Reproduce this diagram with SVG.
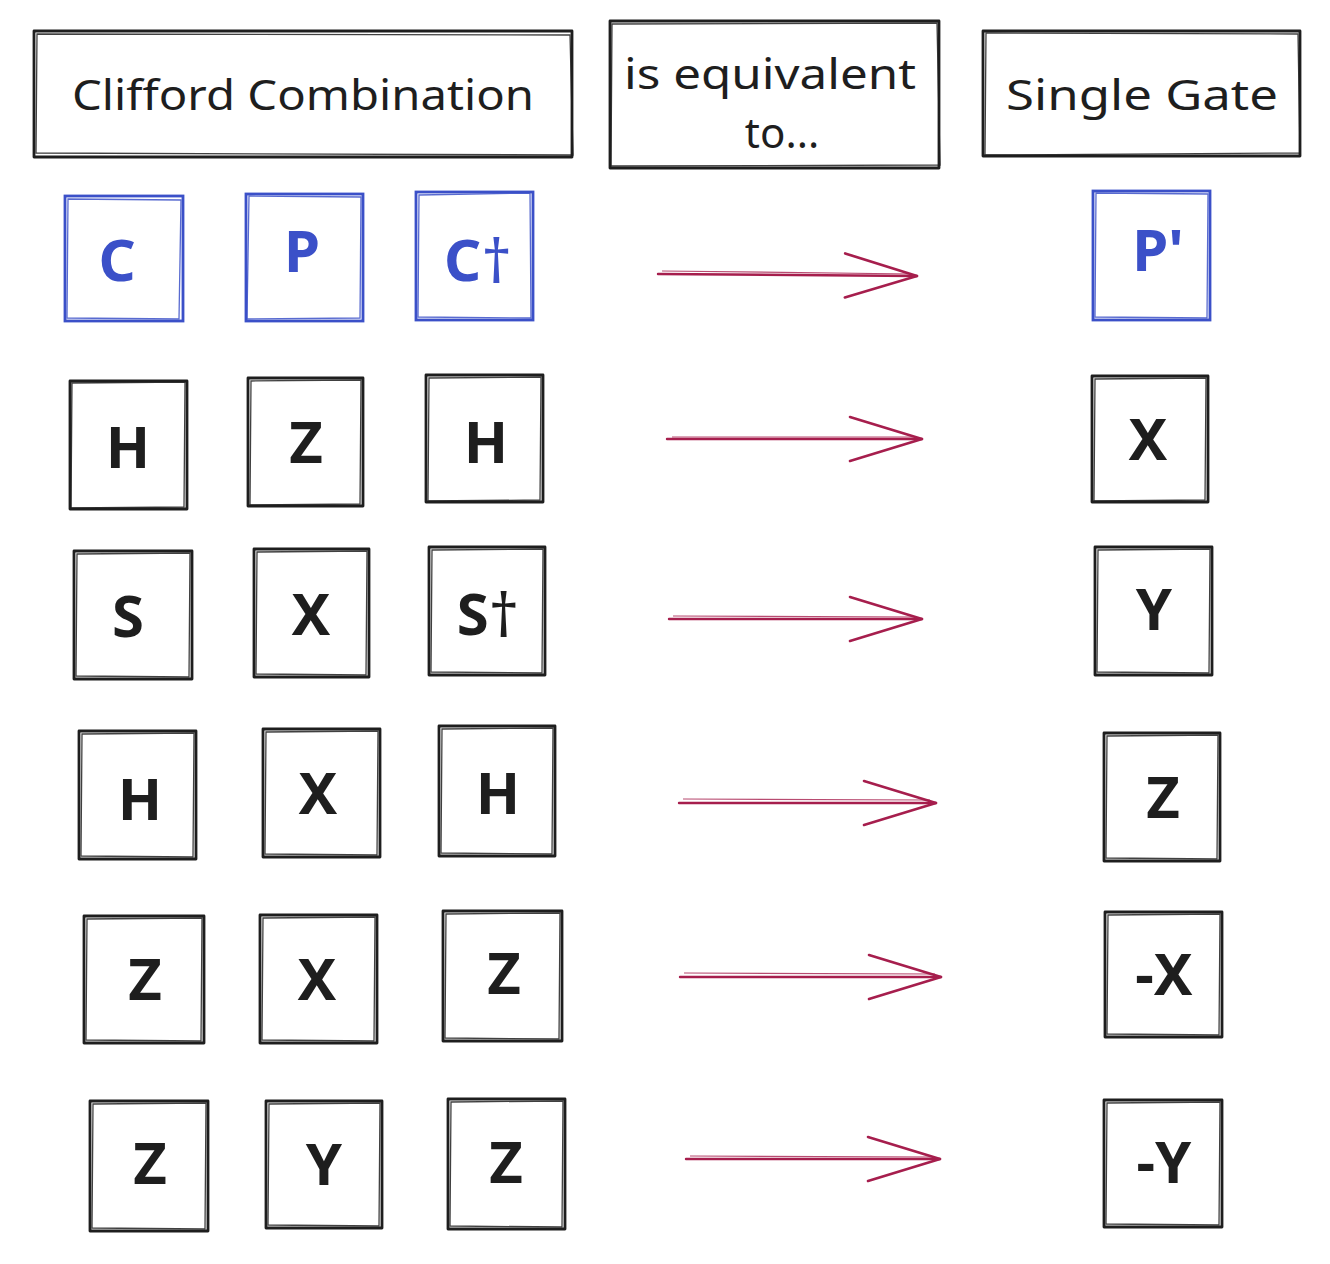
<svg xmlns="http://www.w3.org/2000/svg" width="1330" height="1264" viewBox="0 0 1330 1264">
<style>
.box{fill:none;stroke:#1e1e1e;stroke-width:2.8;stroke-linejoin:round}
.box2{fill:none;stroke:#1e1e1e;stroke-width:1.3;opacity:.85}
.bbox{fill:none;stroke:#3b50c8;stroke-width:2.8}
.bbox2{fill:none;stroke:#3b50c8;stroke-width:1.3;opacity:.85}
.hdr{font-family:"Noto Sans","Liberation Sans",sans-serif;font-size:42px;fill:#1e1e1e;text-anchor:middle;dominant-baseline:central}
.g{font-family:"Noto Sans","Liberation Sans",sans-serif;font-weight:700;font-size:58px;fill:#1e1e1e;text-anchor:middle;dominant-baseline:central}
.gb{fill:#3b50c8}
.dg{font-size:60px;font-weight:400}
.arr{fill:none;stroke:#a61e4d;stroke-width:2.4;stroke-linecap:round}
.arr2{fill:none;stroke:#a61e4d;stroke-width:1.2;opacity:.8}
</style>
<defs>
<marker id="head" viewBox="0 0 76 50" refX="74" refY="25" markerWidth="76" markerHeight="50" markerUnits="userSpaceOnUse" orient="auto">
<path d="M2,3 L74,25 L2,47" fill="none" stroke="#a61e4d" stroke-width="2.6" stroke-linecap="round" stroke-linejoin="round"/>
</marker>
</defs>
<g id="headers">
<g id="h-clifford"><rect class="box" x="34" y="31" width="538" height="126"/><path class="box2" d="M37,34 L570,35 L573,155 L36,153 Z"/><text class="hdr" x="303" y="93" textLength="462" lengthAdjust="spacingAndGlyphs">Clifford Combination</text></g>
<g id="h-equiv"><rect class="box" x="610" y="21" width="329" height="147"/><path class="box2" d="M612,24 L937,23 L940,165 L611,166 Z"/><text class="hdr" x="770" y="72" textLength="292" lengthAdjust="spacingAndGlyphs">is equivalent</text><text class="hdr" x="782" y="131">to...</text></g>
<g id="h-single"><rect class="box" x="983" y="31" width="317" height="125"/><path class="box2" d="M986,33 L1298,34 L1300,153 L985,155 Z"/><text class="hdr" x="1142" y="93" textLength="272" lengthAdjust="spacingAndGlyphs">Single Gate</text></g>
</g>
<g id="nodes">
<g id="n-C"><rect class="bbox" x="65" y="196" width="118" height="125"/><path class="bbox2" d="M68,199 L181,200 L179,319 L67,318 Z"/><text class="g gb" x="117" y="258">C</text></g>
<g id="n-P"><rect class="bbox" x="246" y="194" width="117" height="127"/><path class="bbox2" d="M249,196 L361,197 L360,318 L247,319 Z"/><text class="g gb" x="302" y="249">P</text></g>
<g id="n-Cd"><rect class="bbox" x="416" y="192" width="117" height="128"/><path class="bbox2" d="M419,195 L530,193 L531,318 L418,317 Z"/><text class="g gb" x="478" y="258">C<tspan class="dg" dy="2">†</tspan></text></g>
<g id="n-Pp"><rect class="bbox" x="1093" y="191" width="117" height="129"/><path class="bbox2" d="M1096,193 L1208,194 L1207,318 L1095,317 Z"/><text class="g gb" x="1158" y="248">P'</text></g>

<g id="n-r2a"><rect class="box" x="70" y="381" width="117" height="128"/><path class="box2" d="M72,383 L185,382 L184,507 L71,508 Z"/><text class="g" x="128" y="445">H</text></g>
<g id="n-r2b"><rect class="box" x="248" y="378" width="115" height="128"/><path class="box2" d="M251,381 L361,380 L360,504 L250,505 Z"/><text class="g" x="306" y="440">Z</text></g>
<g id="n-r2c"><rect class="box" x="426" y="375" width="117" height="127"/><path class="box2" d="M429,378 L541,377 L540,500 L428,501 Z"/><text class="g" x="486" y="440">H</text></g>
<g id="n-X1"><rect class="box" x="1092" y="376" width="116" height="126"/><path class="box2" d="M1095,379 L1206,378 L1205,500 L1094,501 Z"/><text class="g" x="1148" y="437">X</text></g>

<g id="n-r3a"><rect class="box" x="74" y="551" width="118" height="128"/><path class="box2" d="M77,554 L190,553 L189,677 L76,676 Z"/><text class="g" x="128" y="614">S</text></g>
<g id="n-r3b"><rect class="box" x="254" y="549" width="115" height="128"/><path class="box2" d="M257,552 L367,551 L366,675 L256,674 Z"/><text class="g" x="311" y="612">X</text></g>
<g id="n-r3c"><rect class="box" x="429" y="547" width="116" height="128"/><path class="box2" d="M432,550 L543,549 L542,673 L431,672 Z"/><text class="g" x="488" y="612">S<tspan class="dg" dy="2">†</tspan></text></g>
<g id="n-Y1"><rect class="box" x="1095" y="547" width="117" height="128"/><path class="box2" d="M1098,550 L1210,549 L1209,673 L1097,672 Z"/><text class="g" x="1154" y="607">Y</text></g>

<g id="n-r4a"><rect class="box" x="79" y="731" width="117" height="128"/><path class="box2" d="M82,734 L194,733 L193,857 L81,856 Z"/><text class="g" x="140" y="797">H</text></g>
<g id="n-r4b"><rect class="box" x="263" y="729" width="117" height="128"/><path class="box2" d="M266,732 L378,731 L377,855 L265,854 Z"/><text class="g" x="318" y="791">X</text></g>
<g id="n-r4c"><rect class="box" x="439" y="726" width="116" height="130"/><path class="box2" d="M442,729 L553,728 L552,854 L441,853 Z"/><text class="g" x="498" y="791">H</text></g>
<g id="n-Z1"><rect class="box" x="1104" y="733" width="116" height="128"/><path class="box2" d="M1107,736 L1218,735 L1217,859 L1106,858 Z"/><text class="g" x="1163" y="795">Z</text></g>

<g id="n-r5a"><rect class="box" x="84" y="916" width="120" height="127"/><path class="box2" d="M87,919 L202,918 L201,1041 L86,1040 Z"/><text class="g" x="145" y="977">Z</text></g>
<g id="n-r5b"><rect class="box" x="260" y="915" width="117" height="128"/><path class="box2" d="M263,918 L375,917 L374,1041 L262,1040 Z"/><text class="g" x="317" y="977">X</text></g>
<g id="n-r5c"><rect class="box" x="443" y="911" width="119" height="130"/><path class="box2" d="M446,914 L560,913 L559,1039 L445,1038 Z"/><text class="g" x="504" y="971">Z</text></g>
<g id="n-mX"><rect class="box" x="1105" y="912" width="117" height="125"/><path class="box2" d="M1108,915 L1220,914 L1219,1035 L1107,1034 Z"/><text class="g" x="1164" y="972">-X</text></g>

<g id="n-r6a"><rect class="box" x="90" y="1101" width="118" height="130"/><path class="box2" d="M93,1104 L206,1103 L205,1229 L92,1228 Z"/><text class="g" x="150" y="1161">Z</text></g>
<g id="n-r6b"><rect class="box" x="266" y="1101" width="116" height="127"/><path class="box2" d="M269,1104 L380,1103 L379,1226 L268,1225 Z"/><text class="g" x="324" y="1162">Y</text></g>
<g id="n-r6c"><rect class="box" x="448" y="1099" width="117" height="130"/><path class="box2" d="M451,1102 L563,1101 L562,1227 L450,1226 Z"/><text class="g" x="506" y="1160">Z</text></g>
<g id="n-mY"><rect class="box" x="1104" y="1100" width="118" height="127"/><path class="box2" d="M1107,1103 L1220,1102 L1219,1225 L1106,1224 Z"/><text class="g" x="1164" y="1160">-Y</text></g>
</g>
<g id="connectors">
<path class="arr" d="M658,274 L917,276" marker-end="url(#head)"/><path class="arr2" d="M662,271 L912,274"/>
<path class="arr" d="M667,439 L922,439" marker-end="url(#head)"/><path class="arr2" d="M672,437 L916,437"/>
<path class="arr" d="M669,619 L922,619" marker-end="url(#head)"/><path class="arr2" d="M673,616 L916,617"/>
<path class="arr" d="M679,803 L936,803" marker-end="url(#head)"/><path class="arr2" d="M683,799 L930,800"/>
<path class="arr" d="M680,977 L941,977" marker-end="url(#head)"/><path class="arr2" d="M684,973 L935,974"/>
<path class="arr" d="M686,1159 L940,1159" marker-end="url(#head)"/><path class="arr2" d="M690,1156 L934,1157"/>
</g>
</svg>
